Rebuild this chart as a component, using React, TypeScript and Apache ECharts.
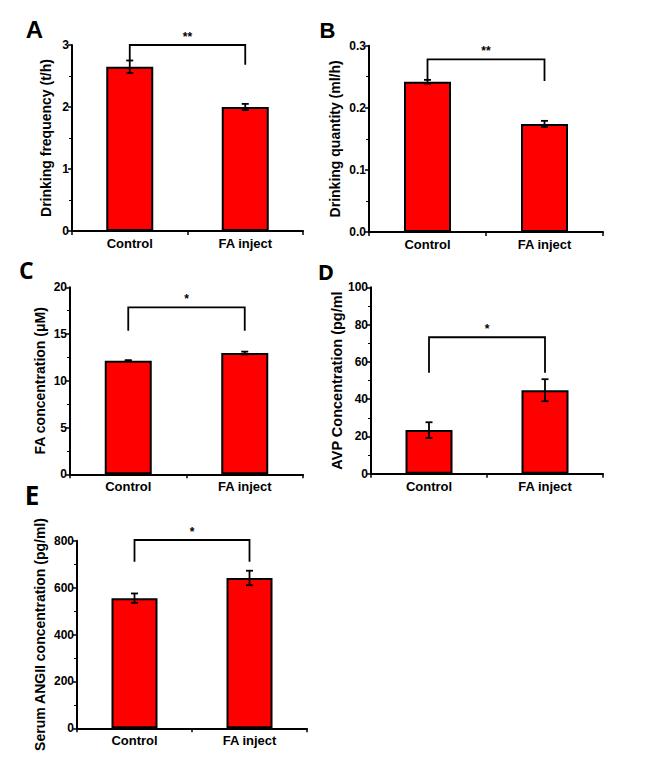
import React, { useEffect, useRef } from "react";
import * as echarts from "echarts";

const categories = ["Control", "FA inject"];

const freqMean = [2.65, 2.0];
const freqErr = [0.1, 0.05];
const freqBracket = [3.0, 2.75, 2.68];

const quantityMean = [0.242, 0.174];
const quantityErr = [0.003, 0.005];
const quantityBracket = [0.278, 0.243, 0.243];

const faMean = [12.15, 12.97];
const faErr = [0.06, 0.15];
const faBracket = [17.86, 15.36, 15.36];

const avpMean = [23.4, 44.8];
const avpErr = [4.2, 5.9];
const avpBracket = [73.2, 54.2, 54.2];

const angMean = [555, 641];
const angErr = [20, 31];
const angBracket = [803, 710, 710];

const yMax = [3, 0.3, 20, 100, 800];
const yInterval = [1, 0.1, 5, 20, 200];
const yNames = [
  "Drinking frequency (t/h)",
  "Drinking quantity (ml/h)",
  "FA concentration (\u03bcM)",
  "AVP Concentration (pg/ml",
  "Serum ANGII concentration (pg/ml)",
];
const stars = ["**", "**", "*", "*", "*"];
const panelLetters = ["A", "B", "C", "D", "E"];

const FONT = "'Liberation Sans', Arial, sans-serif";

export default function App() {
  const ref = useRef<HTMLDivElement>(null);
  useEffect(() => {
    if (!ref.current) return;
    const chart = echarts.init(ref.current, undefined, { renderer: "svg" });

    const means = [freqMean, quantityMean, faMean, avpMean, angMean];
    const errs = [freqErr, quantityErr, faErr, avpErr, angErr];
    const brackets = [freqBracket, quantityBracket, faBracket, avpBracket, angBracket];

    const grids = [
      { left: 72, top: 45, width: 231, height: 186 },
      { left: 369, top: 45.7, width: 234, height: 186.3 },
      { left: 70, top: 287.3, width: 233, height: 187 },
      { left: 371, top: 287.3, width: 232, height: 186.4 },
      { left: 77, top: 540.7, width: 230, height: 187.6 },
    ];
    const nameGaps = [19, 27, 23, 23, 30];
    const decimals = [0, 1, 0, 0, 0];
    const barWidths = [47, 47, 47, 47, 46];

    const black = "#000";
    const lineStyle = { stroke: black, lineWidth: 1.8 };

    const xAxis = grids.map((_, i) => ({
      type: "category",
      gridIndex: i,
      data: categories,
      boundaryGap: true,
      axisLine: { show: true, lineStyle: { color: black, width: 2 } },
      axisTick: { show: true, inside: false, length: 4, lineStyle: { color: black, width: 1.5 } },
      axisLabel: { color: black, fontFamily: FONT, fontWeight: "bold", fontSize: 13, margin: 6 },
      splitLine: { show: false },
    }));

    const yAxis = grids.map((_, i) => ({
      type: "value",
      gridIndex: i,
      min: 0,
      max: yMax[i],
      interval: yInterval[i],
      name: yNames[i],
      nameLocation: "middle",
      nameGap: nameGaps[i],
      nameRotate: 90,
      nameTextStyle: { color: black, fontFamily: FONT, fontWeight: "bold", fontSize: i === 3 ? 14.5 : 14 },
      axisLine: { show: true, lineStyle: { color: black, width: 2 } },
      axisTick: { show: true, inside: false, length: 4, lineStyle: { color: black, width: 1.5 } },
      minorTick: { show: true, splitNumber: 2, length: 3, lineStyle: { color: black, width: 1 } },
      axisLabel: {
        color: black,
        fontFamily: FONT,
        fontWeight: "bold",
        fontSize: 12,
        margin: 3,
        formatter: (v: number) => v.toFixed(decimals[i]),
      },
      splitLine: { show: false },
    }));

    const series: any[] = [];
    grids.forEach((_, i) => {
      series.push({
        type: "bar",
        xAxisIndex: i,
        yAxisIndex: i,
        data: means[i],
        barWidth: barWidths[i],
        itemStyle: { color: "#ff0000", borderColor: black, borderWidth: 2 },
        z: 2,
      });
      series.push({
        type: "custom",
        xAxisIndex: i,
        yAxisIndex: i,
        z: 3,
        data: means[i].map((m, k) => [k, m - errs[i][k], m + errs[i][k]]),
        encode: { x: 0, y: [1, 2] },
        renderItem: (params: any, api: any) => {
          const x = api.value(0);
          const lo = api.coord([x, api.value(1)]);
          const hi = api.coord([x, api.value(2)]);
          const w = 3.5;
          return {
            type: "group",
            children: [
              { type: "line", shape: { x1: lo[0], y1: lo[1], x2: hi[0], y2: hi[1] }, style: lineStyle },
              { type: "line", shape: { x1: lo[0] - w, y1: lo[1], x2: lo[0] + w, y2: lo[1] }, style: lineStyle },
              { type: "line", shape: { x1: hi[0] - w, y1: hi[1], x2: hi[0] + w, y2: hi[1] }, style: lineStyle },
            ],
          };
        },
      });
      const b = brackets[i];
      const star = stars[i];
      series.push({
        type: "custom",
        xAxisIndex: i,
        yAxisIndex: i,
        z: 4,
        clip: false,
        data: [[0, 1, b[0], b[1], b[2]]],
        encode: { x: [0, 1], y: [2, 3, 4] },
        renderItem: (params: any, api: any) => {
          const pTopL = api.coord([api.value(0), api.value(2)]);
          const pTopR = api.coord([api.value(1), api.value(2)]);
          const pL = api.coord([api.value(0), api.value(3)]);
          const pR = api.coord([api.value(1), api.value(4)]);
          return {
            type: "group",
            children: [
              {
                type: "polyline",
                shape: { points: [[pL[0], pL[1]], [pTopL[0], pTopL[1]], [pTopR[0], pTopR[1]], [pR[0], pR[1]]] },
                style: { stroke: black, lineWidth: 1.8, fill: "none" },
              },
              {
                type: "text",
                x: (pTopL[0] + pTopR[0]) / 2,
                y: pTopL[1] - 2,
                style: {
                  text: star,
                  fill: black,
                  font: `bold 12px ${FONT}`,
                  align: "center",
                  verticalAlign: "bottom",
                },
              },
            ],
          };
        },
      });
    });

    const letterPos = [
      { x: 34.5, y: 29.5, size: 24, fam: FONT },
      { x: 327.5, y: 30, size: 22, fam: FONT },
      { x: 26.3, y: 270, size: 23, fam: "'Open Sans', sans-serif" },
      { x: 326, y: 270.5, size: 22, fam: "'Open Sans', sans-serif" },
      { x: 32, y: 495, size: 26, fam: "'Open Sans', sans-serif" },
    ];

    chart.setOption({
      animation: false,
      backgroundColor: "#fff",
      grid: grids.map((g) => ({ ...g, containLabel: false })),
      xAxis,
      yAxis,
      series,
      graphic: panelLetters.map((t, i) => ({
        type: "text",
        x: letterPos[i].x,
        y: letterPos[i].y,
        style: {
          text: t,
          fill: black,
          font: `bold ${letterPos[i].size}px ${letterPos[i].fam}`,
          align: "center",
          verticalAlign: "middle",
        },
      })),
    });

    return () => chart.dispose();
  }, []);

  return (
    <div
      ref={ref}
      style={{ position: "fixed", left: 0, top: 0, width: 650, height: 771, background: "#fff" }}
    />
  );
}
